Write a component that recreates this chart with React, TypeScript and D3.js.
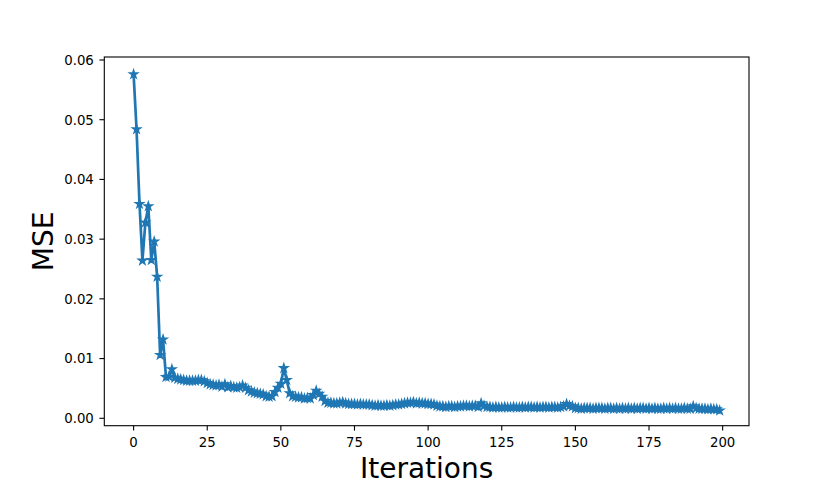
import React from 'react';
import * as d3 from 'd3';

// MSE per iteration
const mseHead = [
  0.0576, 0.0484, 0.0359, 0.0264, 0.0328, 0.0355, 0.0265, 0.0296, 0.0237, 0.0106,
  0.0132, 0.0069, 0.0070, 0.0082, 0.0068, 0.0066, 0.0065, 0.0064, 0.0063, 0.0063,
  0.0063, 0.0063, 0.0064, 0.0064, 0.0062, 0.0059, 0.0057, 0.0056, 0.0055, 0.0056,
  0.0053, 0.0057, 0.0052, 0.0054, 0.0052, 0.0051, 0.0052, 0.0055, 0.0051, 0.0047,
  0.0045, 0.0043, 0.0042, 0.0041, 0.0040, 0.0037, 0.0036, 0.0037, 0.0044, 0.0051,
];
const mseMid = [
  0.0058, 0.0084, 0.0064, 0.0042, 0.0037, 0.0036, 0.0035, 0.0035, 0.0033, 0.0034,
  0.0033, 0.0039, 0.0046, 0.0041, 0.0036, 0.0029, 0.0026, 0.0026, 0.0025, 0.0025,
  0.0026, 0.0027, 0.0025, 0.0024, 0.0024, 0.0024, 0.0023, 0.0024, 0.0023, 0.0023,
  0.0023, 0.0022, 0.0021, 0.0022, 0.0021, 0.0021, 0.0022, 0.0021, 0.0022, 0.0023,
  0.0023, 0.0024, 0.0025, 0.0026, 0.0026, 0.0027, 0.0025, 0.0026, 0.0025, 0.0025,
];
const mseLate = [
  0.0024, 0.0024, 0.0023, 0.0021, 0.0020, 0.0020, 0.0019, 0.0020, 0.0020, 0.0019,
  0.0020, 0.0020, 0.0021, 0.0021, 0.0020, 0.0021, 0.0021, 0.0019, 0.0025, 0.0021,
  0.0019, 0.0019, 0.0018, 0.0019, 0.0018, 0.0018, 0.0019, 0.0018, 0.0018, 0.0019,
  0.0018, 0.0018, 0.0019, 0.0018, 0.0019, 0.0019, 0.0018, 0.0019, 0.0018, 0.0019,
  0.0019, 0.0018, 0.0019, 0.0019, 0.0018, 0.0019, 0.0020, 0.0024, 0.0021, 0.0020,
];
const mseTail = [
  0.0017, 0.0017, 0.0016, 0.0017, 0.0017, 0.0017, 0.0016, 0.0017, 0.0017, 0.0017,
  0.0016, 0.0017, 0.0017, 0.0016, 0.0017, 0.0016, 0.0017, 0.0016, 0.0017, 0.0016,
  0.0017, 0.0016, 0.0017, 0.0017, 0.0016, 0.0017, 0.0016, 0.0017, 0.0016, 0.0016,
  0.0017, 0.0016, 0.0017, 0.0016, 0.0017, 0.0016, 0.0016, 0.0017, 0.0016, 0.0016,
  0.0020, 0.0017, 0.0016, 0.0016, 0.0016, 0.0015, 0.0016, 0.0015, 0.0015, 0.0013,
];
const mse = [...mseHead, ...mseMid, ...mseLate, ...mseTail];

const xTicks = [0, 25, 50, 75, 100, 125, 150, 175, 200];
const yTicks = [0, 0.01, 0.02, 0.03, 0.04, 0.05, 0.06];

const W = 832;
const H = 479;
const plot = { left: 104.3, right: 749, top: 57, bottom: 425.7 };
const blue = '#1f77b4';
const font = '"DejaVu Sans", sans-serif';

export default function App() {
  const x = d3.scaleLinear().domain([-9.95, 208.95]).range([plot.left, plot.right]);
  const y = d3.scaleLinear().domain([-0.00124, 0.0605]).range([plot.bottom, plot.top]);

  const line = d3
    .line<number>()
    .x((_, i) => x(i))
    .y((d) => y(d));

  const star = d3.symbol().type(d3.symbolStar).size(22)();

  return (
    <div style={{ position: 'absolute', left: 0, top: 0 }}>
      <svg width={W} height={H} style={{ display: 'block', background: '#fff' }}>
        <rect x={0} y={0} width={W} height={H} fill="#fff" />

        <path d={line(mse) || ''} fill="none" stroke={blue} strokeWidth={2.7} strokeLinejoin="round" />
        {mse.map((d, i) => (
          <path
            key={i}
            d={star || ''}
            transform={`translate(${x(i)},${y(d)})`}
            fill={blue}
            stroke={blue}
            strokeWidth={1.3}
          />
        ))}

        {/* frame */}
        <rect
          x={plot.left}
          y={plot.top}
          width={plot.right - plot.left}
          height={plot.bottom - plot.top}
          fill="none"
          stroke="#000"
          strokeWidth={1.1}
        />

        {/* x axis ticks */}
        {xTicks.map((t) => (
          <g key={t} transform={`translate(${x(t)},${plot.bottom})`}>
            <line y1={0} y2={4.9} stroke="#000" strokeWidth={1.1} />
            <text y={21.5} textAnchor="middle" fontFamily={font} fontSize={13.3} fill="#000">
              {t}
            </text>
          </g>
        ))}

        {/* y axis ticks */}
        {yTicks.map((t) => (
          <g key={t} transform={`translate(${plot.left},${y(t)})`}>
            <line x1={-4.9} x2={0} stroke="#000" strokeWidth={1.1} />
            <text x={-10.5} dy="0.36em" textAnchor="end" fontFamily={font} fontSize={13.3} fill="#000">
              {d3.format('.2f')(t)}
            </text>
          </g>
        ))}

        <text
          x={(plot.left + plot.right) / 2}
          y={477.5}
          textAnchor="middle"
          fontFamily={font}
          fontSize={28}
          fill="#000"
        >
          Iterations
        </text>
        <text
          transform={`translate(53, ${(plot.top + plot.bottom) / 2}) rotate(-90)`}
          textAnchor="middle"
          fontFamily={font}
          fontSize={28}
          fill="#000"
        >
          MSE
        </text>
      </svg>
    </div>
  );
}
